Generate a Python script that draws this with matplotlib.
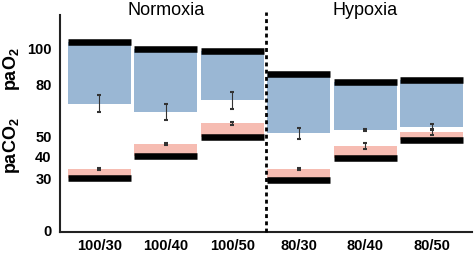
import numpy as np
import matplotlib
matplotlib.use("Agg")
import matplotlib.pyplot as plt

plt.rcParams['font.family'] = ['Liberation Sans', 'DejaVu Sans']
plt.rcParams['mathtext.fontset'] = 'custom'
plt.rcParams['mathtext.rm'] = 'Liberation Sans:bold'
plt.rcParams['mathtext.bf'] = 'Liberation Sans:bold'

# ---- data ----
categories = ['100/30', '100/40', '100/50', '80/30', '80/40', '80/50']
groups = ['Normoxia', 'Hypoxia']
group_sizes = [3, 3]
o2_target = [103.2, 99.8, 98.6, 85.9, 81.5, 82.6]
o2_mean = [69.2, 64.3, 71.1, 52.0, 53.9, 55.6]
o2_err = [4.8, 4.9, 4.9, 3.2, 0.5, 1.9]
co2_target = [30.0, 40.1, 50.0, 29.1, 39.2, 48.3]
co2_mean = [34.2, 46.2, 57.8, 34.2, 45.4, 52.6]
co2_err = [0.5, 0.5, 0.9, 0.5, 1.4, 1.7]
ytick_vals = [0, 30, 40, 50, 80, 100]

# piecewise axis scale (the original axis is not linear)
knot_vals = np.array([-20, 0, 30, 40, 50, 80, 100, 140], dtype=float)
knot_pos = np.array([-34.8, 0, 52.2, 73.8, 93.8, 145.5, 182.2, 255.6])


def fwd(v):
    return np.interp(v, knot_vals, knot_pos)


def inv(p):
    return np.interp(p, knot_pos, knot_vals)


BLUE = '#9ab7d4'
PINK = '#f6bcb2'
W = 0.95

fig = plt.figure(figsize=(4.74, 2.54), dpi=100)
ax = fig.add_axes([60 / 474, (254 - 231.7) / 254, 412 / 474, (231.7 - 15) / 254])
ax.set_yscale('function', functions=(fwd, inv))

x = np.arange(len(categories))
o2_t = np.array(o2_target)
o2_m = np.array(o2_mean)
co2_t = np.array(co2_target)
co2_m = np.array(co2_mean)

ax.bar(x, o2_t - o2_m, bottom=o2_m, width=W, color=BLUE, zorder=2)
ax.bar(x, co2_m - co2_t, bottom=co2_t, width=W, color=PINK, zorder=2)
ax.hlines(o2_t, x - W / 2, x + W / 2, colors='black', linewidth=4.7,
          capstyle='butt', zorder=3)
ax.hlines(co2_t, x - W / 2, x + W / 2, colors='black', linewidth=4.7,
          capstyle='butt', zorder=3)
ax.errorbar(x, o2_m, yerr=o2_err, fmt='none', ecolor='#333333',
            elinewidth=0.8, capsize=1.3, capthick=1.5, zorder=4)
ax.errorbar(x, co2_m, yerr=co2_err, fmt='none', ecolor='#333333',
            elinewidth=0.8, capsize=1.3, capthick=1.5, zorder=4)

ax.set_xlim(-0.59, 5.605)
ax.set_ylim(-0.7, 118.1)

# separator
sep = group_sizes[0] - 0.5
ax.plot([sep, sep], [-0.7, 119.7], linestyle=(0, (1.4, 1.2)), color='black',
        linewidth=2, clip_on=False, zorder=5)

# group titles
starts = np.cumsum([0] + group_sizes[:-1])
for g, s, n in zip(groups, starts, group_sizes):
    ax.text(s + (n - 1) / 2, 1.0, g, transform=ax.get_xaxis_transform(),
            ha='center', va='baseline', fontsize=13)

ax.set_xticks(x)
ax.set_xticklabels(categories, fontweight='bold', fontsize=10.5)
ax.set_yticks(ytick_vals)
ax.set_yticklabels([str(v) for v in ytick_vals], fontweight='bold', fontsize=10.5)
ax.tick_params(axis='both', length=0)
ax.tick_params(axis='y', pad=6)
ax.tick_params(axis='x', pad=5)
ax.minorticks_off()

for s in ['top', 'right']:
    ax.spines[s].set_visible(False)
for s in ['left', 'bottom']:
    ax.spines[s].set_linewidth(1.5)
    ax.spines[s].set_color('#222222')

fig.text(11 / 474, 1 - 69 / 254, r'paO$_\mathbf{2}$', rotation=90, ha='center',
         va='center', fontsize=13, fontweight='bold')
fig.text(11 / 474, 1 - 145.5 / 254, r'paCO$_\mathbf{2}$', rotation=90, ha='center',
         va='center', fontsize=13, fontweight='bold')

fig.savefig('out.png', dpi=100)
